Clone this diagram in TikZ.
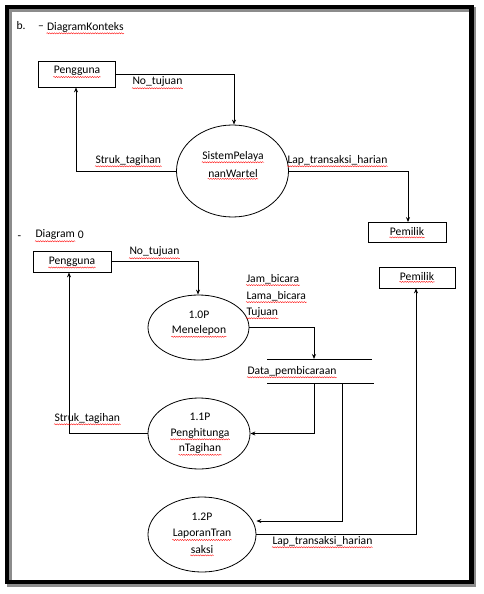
\documentclass[tikz,border=0pt]{standalone}
\usepackage{fontspec}
\setmainfont{Carlito}
\usetikzlibrary{shapes.geometric,arrows.meta,decorations.pathmorphing}
\newcommand{\fs}{\fontsize{11.6}{13}\selectfont}
\tikzset{
  lbl/.style={font=\fs, inner sep=0.3pt},
  dashlbl/.style={font=\fs, inner sep=0.3pt, text height=1.6ex, text depth=0.45ex},
  box/.style={draw, line width=0.8pt, inner sep=0pt},
  proc/.style={draw, ellipse, line width=0.8pt, inner sep=0pt},
  flow/.style={line width=0.8pt, -{Stealth[length=5pt,width=4pt]}},
  plain/.style={line width=0.8pt},
  spell/.style={red, line width=0.35pt, decorate, decoration={snake, amplitude=0.6pt, segment length=2.4pt}}
}
\newcommand{\squig}[1]{\draw[spell] ([yshift=-0.8pt]#1.south west) -- ([yshift=-0.8pt]#1.south east);}
\begin{document}
\begin{tikzpicture}[x=1pt,y=-1pt]
\useasboundingbox (0,0) rectangle (484,594);
% frame with shadow
\draw[line width=4.5pt, black!45] (9.5,9.5) rectangle (474,584.5);
\draw[line width=4.5pt] (7.2,7.2) rectangle (471.3,582);

% ---------- Diagram Konteks ----------
\node[dashlbl, anchor=west] (b) at (16,27) {b.};
\node[dashlbl, anchor=west] (dash1) at (37.5,27) {--};
\node[lbl, anchor=west] (titleK) at (46.5,27) {DiagramKonteks};

\node[box, minimum width=77pt, minimum height=26pt] (p1) at (76.5,74) {};
\node[lbl] (p1t) at (77,71) {Pengguna};

\node[proc, minimum width=112pt, minimum height=92pt] (s0) at (232.5,171) {};
\node[lbl] (s0a) at (233,156) {SistemPelaya};
\node[lbl] (s0b) at (233,173.5) {nanWartel};

\node[box, minimum width=78pt, minimum height=20pt] (o1) at (407,232.5) {};
\node[lbl] (o1t) at (407,232) {Pemilik};

\coordinate (x1) at (234,0);
\coordinate (x2) at (76,0);
\coordinate (x3) at (408,0);
\draw[flow] (p1.east) -- (p1.east -| x1) -- (s0.north -| x1);
\node[lbl, anchor=west] (l1) at (132,82) {No\_tujuan};

\draw[flow] (s0.west) -- (s0.west -| x2) -- (p1.south -| x2);
\node[lbl, anchor=west] (l2) at (95,160) {Struk\_tagihan};

\draw[flow] (s0.east) -- (s0.east -| x3) -- (o1.north -| x3);
\node[lbl, anchor=west] (l3) at (287,160) {Lap\_transaksi\_harian};

% ---------- Diagram 0 ----------
\node[dashlbl, anchor=west] (dash2) at (17,236.5) {-};
\node[lbl, anchor=west] (title0) at (35,235) {Diagram};
\node[lbl, anchor=west] (title0n) at (title0.east) {\,0};

\node[box, minimum width=78pt, minimum height=21pt] (p2) at (72,261.5) {};
\node[lbl] (p2t) at (72,261.5) {Pengguna};

\node[box, minimum width=76pt, minimum height=21pt] (o2) at (417,277.5) {};
\node[lbl] (o2t) at (417,276.5) {Pemilik};

\node[proc, minimum width=101pt, minimum height=65pt] (e0) at (198.5,327.5) {};
\node[lbl] (e0a) at (199,315) {1.0P};
\node[lbl] (e0b) at (199,330.5) {Menelepon};

\node[proc, minimum width=102pt, minimum height=71pt] (e1) at (199,433.5) {};
\node[lbl] (e1a) at (200,417) {1.1P};
\node[lbl] (e1b) at (200,433) {Penghitunga};
\node[lbl] (e1c) at (200,448.5) {nTagihan};

\node[proc, minimum width=108pt, minimum height=75pt] (e2) at (202,534.5) {};
\node[lbl] (e2a) at (202,517) {1.2P};
\node[lbl] (e2b) at (202,534) {LaporanTran};
\node[lbl] (e2c) at (202,550) {saksi};

% data store
\coordinate (dsTL) at (267,359);
\coordinate (dsTR) at (372,359);
\coordinate (dsBL) at (267,383.5);
\coordinate (dsBR) at (374,383.5);
\draw[plain] (dsTL) -- (dsTR);
\draw[plain] (dsBL) -- (dsBR);
\node[lbl, anchor=west] (ds) at (247,371) {Data\_pembicaraan};

% flows
\coordinate (y1) at (198,0);
\coordinate (y2) at (314,0);
\coordinate (y3) at (342,0);
\coordinate (y4) at (69,0);
\coordinate (y5) at (416,0);
\coordinate (h4) at (0,521);

\draw[flow] (p2.east) -- (p2.east -| y1) -- (e0.north -| y1);
\node[lbl, anchor=west] (n1) at (129,252) {No\_tujuan};

\draw[flow] (e0.east) -- (e0.east -| y2) -- (dsTL -| y2);
\node[lbl, anchor=west] (n2a) at (246,279) {Jam\_bicara};
\node[lbl, anchor=west] (n2b) at (246,296) {Lama\_bicara};
\node[lbl, anchor=west] (n2c) at (246,312) {Tujuan};

\draw[flow] (dsBL -| y2) -- (e1.east -| y2) -- (e1.east);

\draw[flow] (dsBL -| y3) -- (h4 -| y3) -- (h4 -| e2.east);

\draw[flow] (e1.west) -- (e1.west -| y4) -- (p2.south -| y4);
\node[lbl, anchor=west] (n5) at (54,418) {Struk\_tagihan};

\draw[flow] (e2.east) -- (e2.east -| y5) -- (o2.south -| y5);
\node[lbl, anchor=west] (n6) at (272,541) {Lap\_transaksi\_harian};

% spell-check underlines
\foreach \n in {titleK,p1t,s0a,s0b,o1t,l1,l2,l3,title0,p2t,o2t,e0b,e1b,e1c,e2b,e2c,ds,n1,n2a,n2b,n2c,n5,n6} {\squig{\n}}
\end{tikzpicture}
\end{document}
